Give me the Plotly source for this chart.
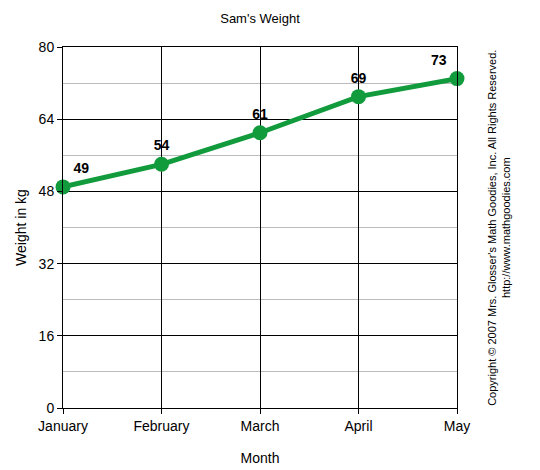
import plotly.graph_objects as go

# Sam's weight by month
months = ['January', 'February', 'March', 'April', 'May']
weight_kg = [49, 54, 61, 69, 73]
label_pos = ['top right', 'top center', 'top center', 'top center', 'top left']

green = '#129b3c'
font_family = 'Arial, Liberation Sans, sans-serif'

fig = go.Figure()
fig.add_trace(go.Scatter(
    x=months, y=weight_kg,
    mode='lines+markers+text',
    line=dict(color=green, width=5),
    marker=dict(color=green, size=15),
    text=[str(w) for w in weight_kg],
    textposition=label_pos,
    textfont=dict(size=14, color='black', family=font_family, weight='bold'),
    cliponaxis=False,
    showlegend=False,
))

# page body adds ~8px around the figure, so the figure is a bit smaller
fig.update_layout(
    width=532, height=462,
    margin=dict(l=55, r=83, t=39, b=62),
    paper_bgcolor='white', plot_bgcolor='white',
    font=dict(family=font_family, size=14, color='black'),
    title=dict(text="Sam's Weight", x=0.5, xref='paper', y=0.978, yref='container',
               yanchor='middle', font=dict(size=13)),
)

fig.update_xaxes(
    type='category', range=[0, 4], automargin=False,
    showline=True, linecolor='black', linewidth=1, mirror=True,
    showgrid=True, gridcolor='black', gridwidth=1,
    ticks='outside', ticklen=5, tickcolor='black',
    title=dict(text='Month', standoff=20, font=dict(size=14)),
    tickfont=dict(size=14),
)
fig.update_yaxes(
    range=[0, 80], dtick=16, tick0=0, automargin=False,
    showline=True, linecolor='black', linewidth=1, mirror=True,
    showgrid=True, gridcolor='black', gridwidth=1,
    ticks='outside', ticklen=5, tickcolor='black',
    minor=dict(dtick=8, showgrid=True, gridcolor='#bbbbbb', gridwidth=1),
    zeroline=False,
    title=dict(text='Weight in kg', standoff=8, font=dict(size=14)),
    tickfont=dict(size=14),
)

fig.add_annotation(
    text="Copyright © 2007 Mrs. Glosser's Math Goodies, Inc. All Rights Reserved.<br>http://www.mathgoodies.com",
    xref='paper', yref='paper', x=1.143, y=0.5,
    textangle=-90, showarrow=False, align='center',
    font=dict(size=11, color='black'),
)

fig.write_html("out.html")
